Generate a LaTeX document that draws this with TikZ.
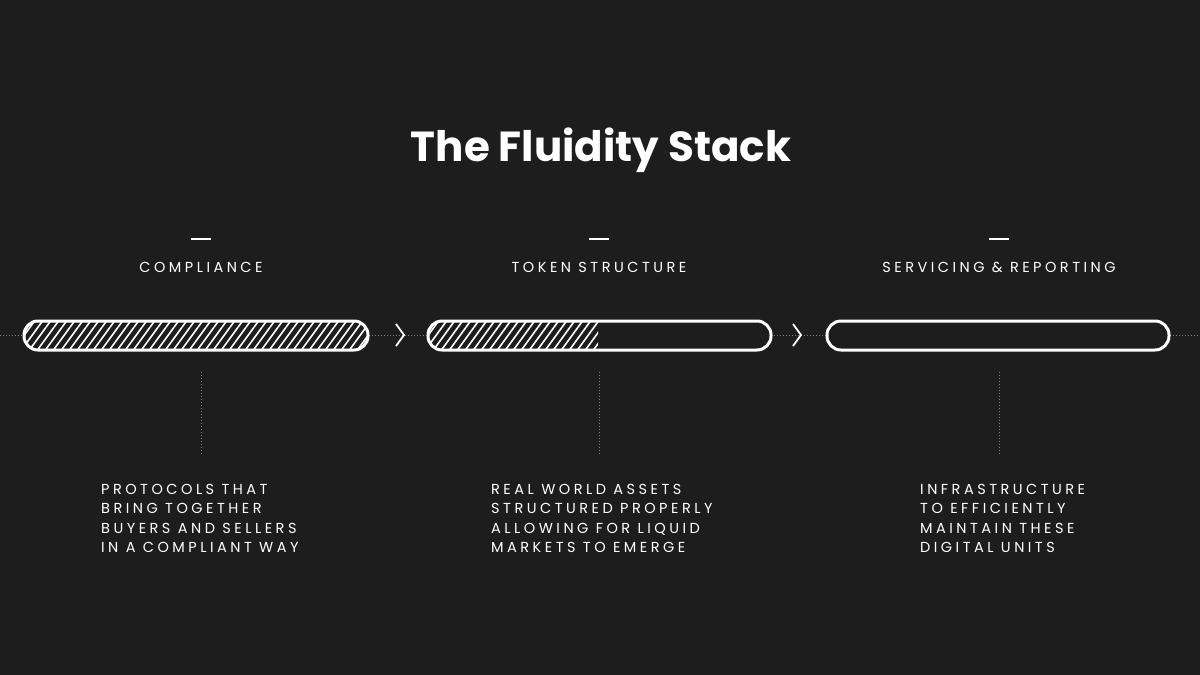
\documentclass[tikz,border=0pt]{standalone}
\usepackage{fontspec}
\setmainfont{Poppins}
\newfontfamily\lab[LetterSpace=24]{Poppins}
\definecolor{bg}{HTML}{1D1D1D}
\begin{document}
\begin{tikzpicture}[x=1pt,y=-1pt,
  barbox/.style={draw=white,line width=3pt,rounded corners=14pt,fill=bg},
  head/.style={text=white,font=\lab\fontsize{14.5}{16}\selectfont,inner sep=0pt},
  body/.style={text=white,font=\lab\fontsize{14.5}{19.5}\selectfont,align=left,anchor=north west,inner sep=0pt},
  dots/.style={gray,line width=1pt,dotted},
  chev/.style={white,line width=1.8pt}]
\fill[bg] (0,0) rectangle (1200,675);
\useasboundingbox (0,0) rectangle (1200,675);
\node[text=white,font=\fontsize{42}{46}\selectfont\bfseries] (title) at (601,150) {The Fluidity Stack};
\coordinate (L) at (0,335); \coordinate (R) at (1200,335);
\draw[dots] (L) -- (R);
\foreach \x/\n/\t in {201/a/COMPLIANCE,599/b/TOKEN STRUCTURE,999/c/SERVICING \& REPORTING}{
  \draw[white,line width=2pt] (\x-10,239) -- (\x+10,239);
  \node[head] (h\n) at (\x,267) {\t};
  \coordinate (t\n) at (\x,372); \coordinate (u\n) at (\x,456);
  \draw[dots] (t\n) -- (u\n);
}
% bars
\foreach \a/\b/\h/\n in {24/368/368/1,428/771/598/2,827/1169/827/3}{
  \fill[bg,rounded corners=14pt] (\a,321) rectangle (\b,350);
  \begin{scope}
    \clip[rounded corners=14pt] (\a,321) rectangle (\b,350);
    \clip (\a,300) rectangle (\h,370);
    \foreach \k in {0,8,...,360}{ \draw[white,line width=1.6pt] (\a+\k-12,352) -- (\a+\k+12,319); }
  \end{scope}
  \draw[barbox,fill=none] (\a,321) rectangle (\b,350) node[coordinate] (bar\n) {};
}
\draw[chev] (396,324) -- (404,335) -- (396,346);
\draw[chev] (793,324) -- (801,335) -- (793,346);
\node[body] (da) at (101,484) {PROTOCOLS THAT\\BRING TOGETHER\\BUYERS AND SELLERS\\IN A COMPLIANT WAY};
\node[body] (db) at (491,484) {REAL WORLD ASSETS\\STRUCTURED PROPERLY\\ALLOWING FOR LIQUID\\MARKETS TO EMERGE};
\node[body] (dc) at (920,484) {INFRASTRUCTURE\\TO EFFICIENTLY\\MAINTAIN THESE\\DIGITAL UNITS};
\end{tikzpicture}
\end{document}
